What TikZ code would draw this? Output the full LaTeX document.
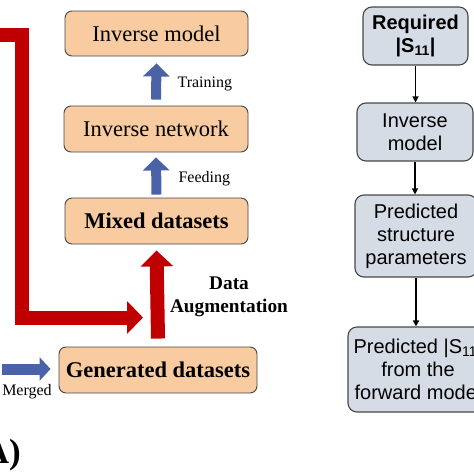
\documentclass[tikz,border=0pt]{standalone}
\usepackage{fontspec}
\setmainfont{Liberation Serif}
\newfontfamily\arialfont{Liberation Sans}
\usetikzlibrary{arrows.meta}

\definecolor{boxorange}{RGB}{248,203,160}
\definecolor{boxgray}{RGB}{214,220,229}
\definecolor{arrowred}{RGB}{192,0,0}
\definecolor{arrowblue}{RGB}{74,98,168}
\definecolor{edgegray}{RGB}{70,70,70}

\begin{document}
\begin{tikzpicture}[x=1pt, y=-1pt,
    stagebox/.style={draw=edgegray, line width=0.9pt, fill=boxorange, rounded corners=7pt,
      inner sep=0pt, font=\fontsize{22.5}{26}\selectfont},
    flowbox/.style={draw=edgegray, line width=1.1pt, fill=boxgray, rounded corners=9pt,
      inner sep=0pt, align=center, font=\arialfont\fontsize{20}{23}\selectfont},
    bluearrow/.style={arrowblue, line width=10pt, -{Triangle[width=26pt,length=13pt]}},
    redarrow/.style={arrowred, line width=14pt, miter limit=10,
      -{Triangle[width=32pt,length=16pt]}},
    thinarrow/.style={black, line width=1.3pt, -{Triangle[width=6pt,length=6pt]}},
    steplabel/.style={anchor=west, font=\fontsize{16}{19}\selectfont}]
  \useasboundingbox (0,0) rectangle (474,474);
  \clip (0,0) rectangle (474,474);

  % 1. Left column: dataset pipeline
  \node[stagebox, minimum width=183pt, minimum height=45pt] (invmodel) at (156.5,33.5) {Inverse model};
  \node[stagebox, minimum width=184pt, minimum height=46pt] (invnet) at (156,129) {Inverse network};
  \node[stagebox, minimum width=183pt, minimum height=46pt] (mixed) at (156.5,221) {\textbf{Mixed datasets}};
  \node[stagebox, minimum width=198pt, minimum height=46pt] (gen) at (158,370) {\textbf{Generated datasets}};

  % Blue arrows between the boxes
  \draw[bluearrow] ([yshift=6pt]invnet.north) -- ([yshift=-7pt]invmodel.south);
  \node[steplabel] (training) at (174,84) {Training};
  \draw[bluearrow] ([yshift=3pt]mixed.north) -- ([yshift=-5pt]invnet.south);
  \node[steplabel] (feeding) at (175,179) {Feeding};

  % 2. Red arrows (data augmentation)
  \draw[redarrow] ([yshift=8pt]gen.north) -- ([yshift=-6pt]mixed.south);
  \node[align=center, font=\bfseries\fontsize{19.3}{23}\selectfont] (augment) at (229,297) {Data\\Augmentation};
  \coordinate (redin) at (-10,35);
  \coordinate (redout) at (143,317.5);
  \draw[redarrow] (redin) -- (22,35) -- (22,317.5) -- (redout);

  % Merged input
  \coordinate (mergein) at (2,369);
  \draw[bluearrow, line width=11pt, -{Triangle[width=23pt,length=11pt]}] (mergein) -- ([xshift=-8pt]gen.west |- mergein);
  \node[font=\fontsize{16}{19}\selectfont] (merged) at (27,392) {Merged};

  % Panel label
  \node[anchor=base east, inner sep=0pt, font=\bfseries\fontsize{35}{40}\selectfont] (panel) at (21,463) {(A)};

  % 3. Right column: inverse design flow
  \node[flowbox, minimum width=105pt, minimum height=58pt] (req) at (415.5,36) {\bfseries Required\\\bfseries |S\textsubscript{11}|};
  \node[flowbox, minimum width=116pt, minimum height=58pt] (rinv) at (415,132) {Inverse\\model};
  \node[flowbox, minimum width=122pt, minimum height=82pt] (rpred) at (416,236) {Predicted\\structure\\parameters};
  \node[flowbox, minimum width=140pt, minimum height=85pt] (rfwd) at (418,369.5) {Predicted |S\textsubscript{11}|\\from the\\forward model};

  \draw[thinarrow] (req.south) -- (req.south |- rinv.north);
  \draw[thinarrow] (rinv.south) -- (rinv.south |- rpred.north);
  \draw[thinarrow] (rpred.south) -- (rpred.south |- rfwd.north);
\end{tikzpicture}
\end{document}
